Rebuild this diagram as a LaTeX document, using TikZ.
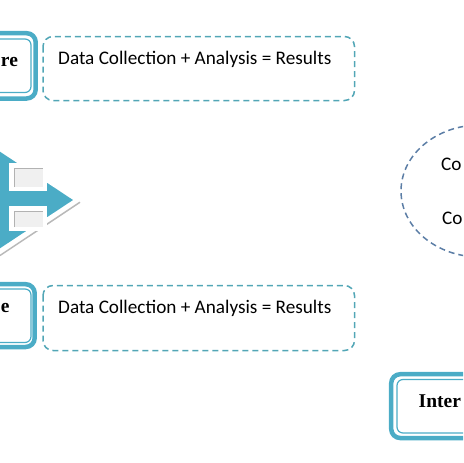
\documentclass[tikz,border=0pt]{standalone}
\usepackage{fontspec}
\setmainfont{Liberation Serif}
\newfontfamily\calib{Carlito}
\usetikzlibrary{positioning}
\definecolor{aqua}{RGB}{75,172,198}
\definecolor{dashaqua}{RGB}{82,166,182}
\definecolor{ovalblue}{RGB}{92,126,166}
\tikzset{
  thickframe/.style={draw=aqua, line width=4.5pt, rounded corners=9pt},
  thinframe/.style={draw=aqua, line width=1.2pt, rounded corners=6pt},
  dashframe/.style={draw=dashaqua, line width=1.5pt, dash pattern=on 6pt off 4pt, rounded corners=10pt},
  ovalframe/.style={draw=ovalblue, line width=1.5pt, dash pattern=on 6pt off 4pt},
  bodytext/.style={font=\calib\fontsize{19.2}{23}\selectfont, inner sep=0pt, anchor=base west},
  headtext/.style={font=\bfseries\fontsize{19.5}{23}\selectfont, inner sep=0pt},
}

\begin{document}
\begin{tikzpicture}[x=1pt,y=-1pt]
	\useasboundingbox (0,0) rectangle (463,463);
	\clip (0,0) rectangle (463,463);
	% top stage
	\draw[thickframe] (-60,33.2) rectangle (35.7,98.5);
	\draw[thinframe] (-60,39) rectangle (31,92.5);
	\node[headtext, anchor=base west] (topword) at (0.8,66) {re};
	\draw[dashframe] (43,36.5) rectangle (354.5,100.5);
	\node[bodytext] (topresult) at (58,64) {Data Collection + Analysis = Results};
	% arrow
	\draw[gray!55, line width=1.5pt] (0,255.5) -- (80,202.2);
	\fill[aqua, draw=white, line width=3pt] (-40,123.3) -- (76,200) -- (-40,276.7) -- cycle;
	\foreach \ya/\yb in {163/191, 206/231} {
		\fill[white] (9,\ya) rectangle (47,\yb);
		\fill[gray!12] (14,\ya+5) rectangle (43,\yb-4);
		\draw[gray!60, line width=1.5pt] (14.5,\yb-4) -- (14.5,\ya+5.5) -- (43,\ya+5.5);
	}
	% bottom stage
	\draw[thickframe] (-60,284.2) rectangle (34.7,347);
	\draw[thinframe] (-60,289) rectangle (31,342.5);
	\node[headtext, anchor=base west] (lowword) at (0.8,312) {e};
	\draw[dashframe] (43,285.5) rectangle (354.5,350.5);
	\node[bodytext] (lowresult) at (58,313) {Data Collection + Analysis = Results};
	% right side
	\draw[ovalframe] (480,191) ellipse [x radius=79, y radius=66];
	\node[bodytext] (coa) at (441,170) {Co};
	\node[bodytext] (cob) at (442,224) {Co};
	\draw[thickframe] (391.2,374.2) rectangle (520,438);
	\draw[thinframe] (397,379.5) rectangle (520,433);
	\node[headtext, anchor=base west] (interword) at (418.5,407) {Inter};
\end{tikzpicture}
\end{document}
